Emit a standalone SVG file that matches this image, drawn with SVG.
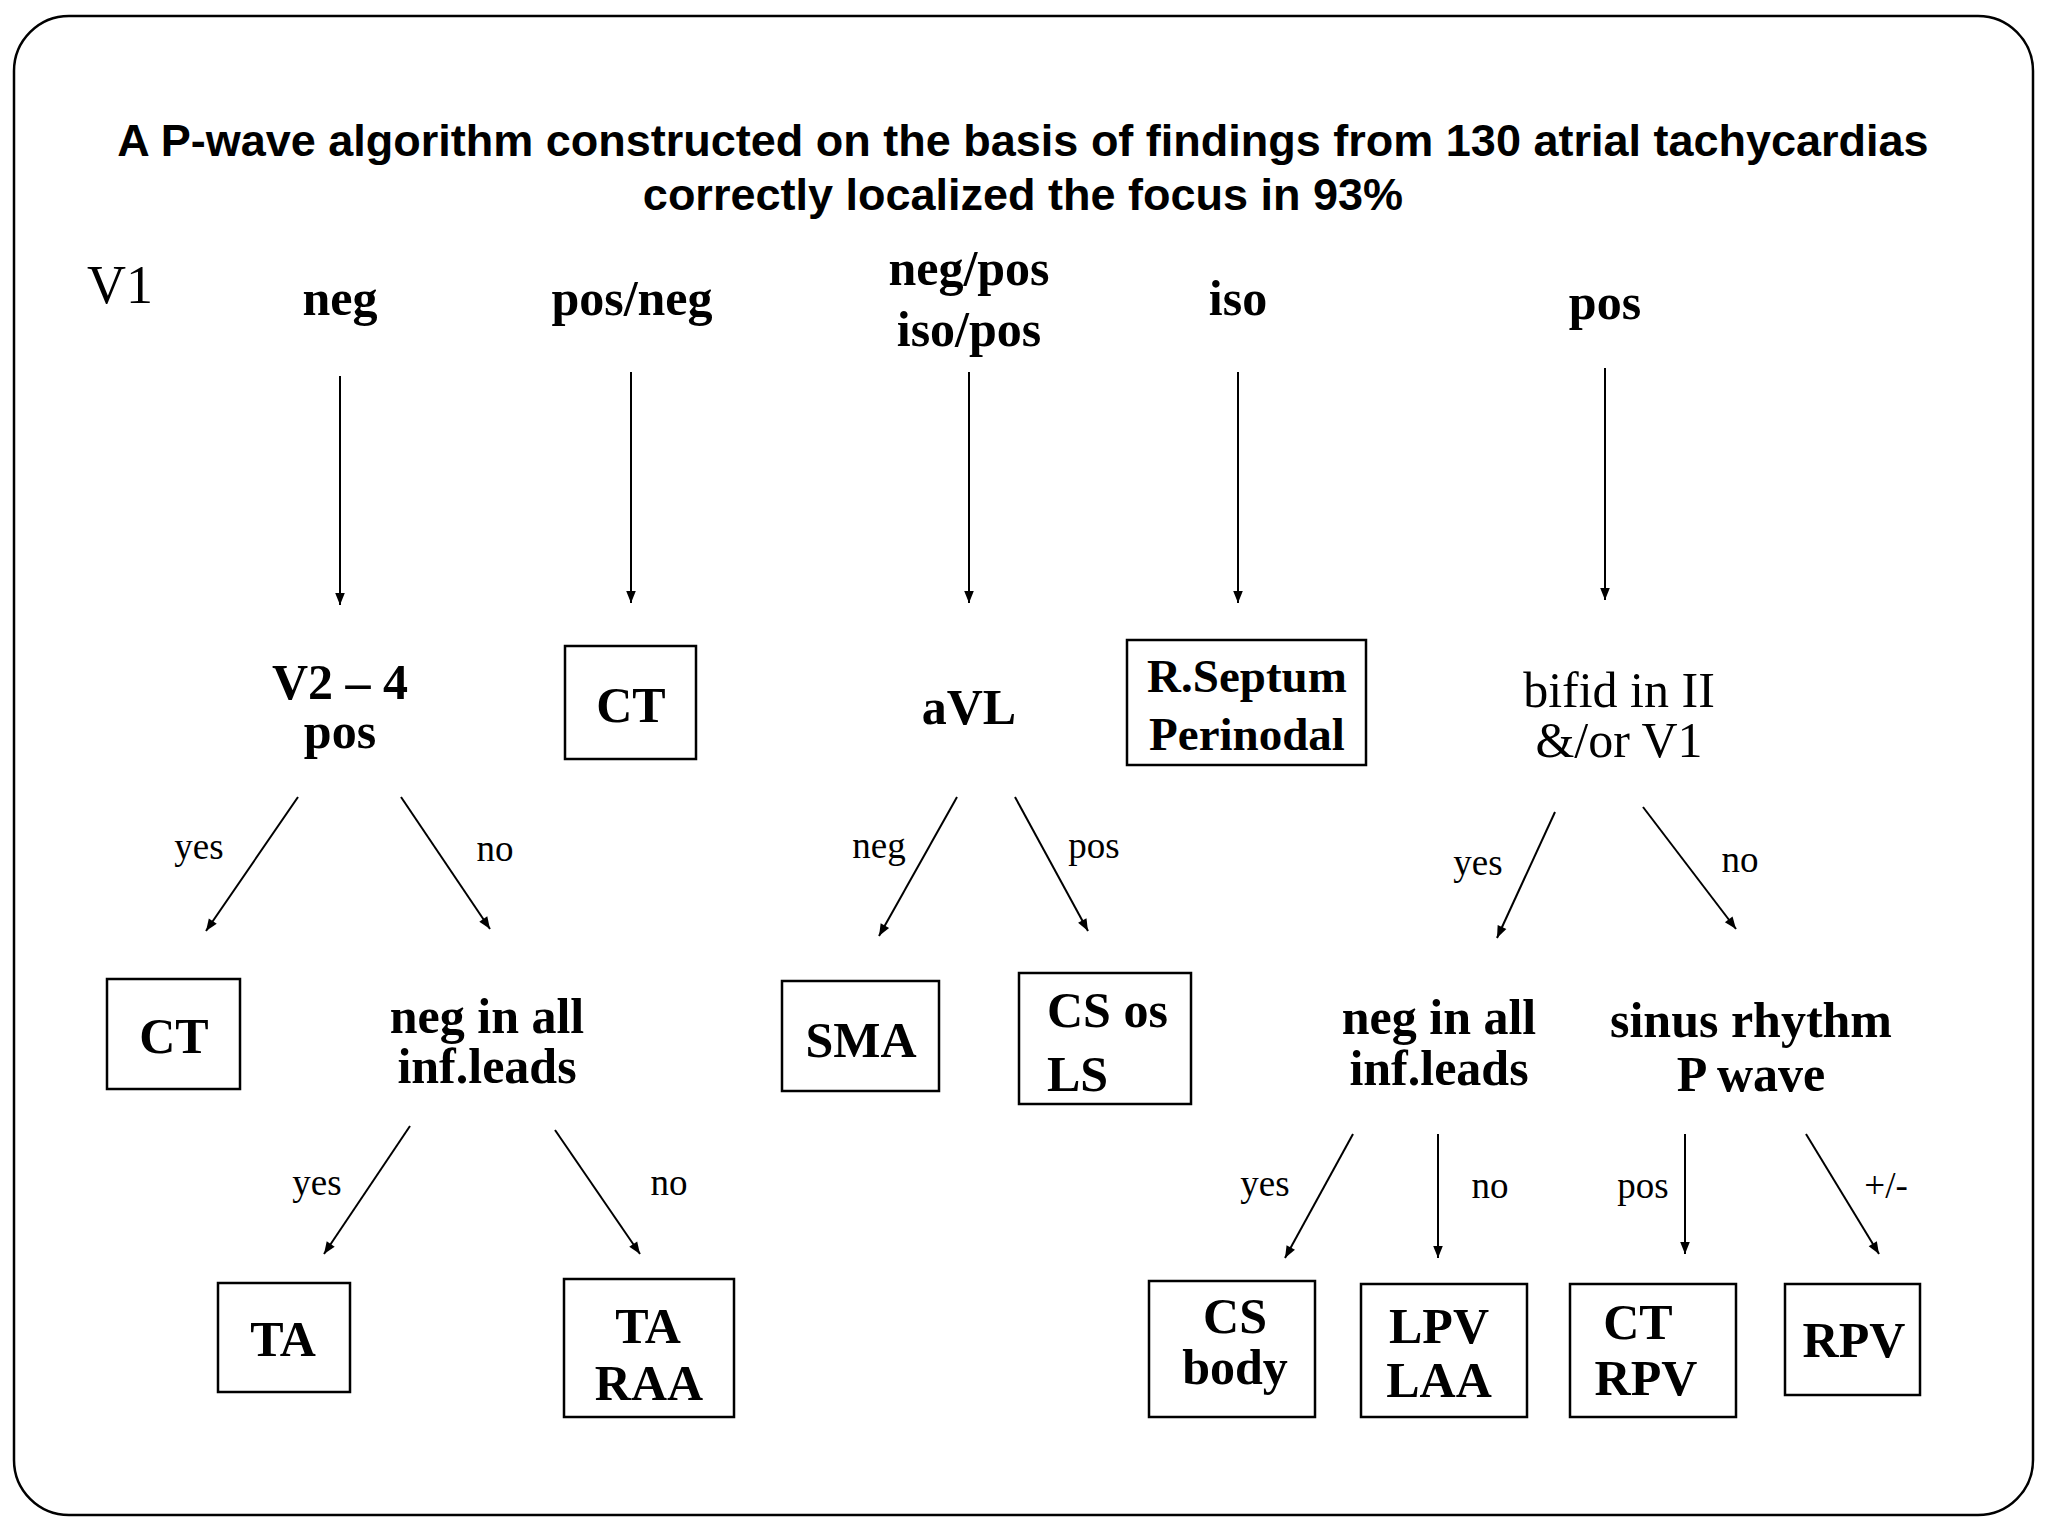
<svg xmlns="http://www.w3.org/2000/svg" width="2048" height="1536" viewBox="0 0 2048 1536">
<style>
.t{font-family:"Liberation Serif",serif;font-weight:bold;font-size:50px;text-anchor:middle;dominant-baseline:central}
.n{font-family:"Liberation Serif",serif;font-size:37px;text-anchor:middle;dominant-baseline:central}
.b{fill:none;stroke:#000;stroke-width:2.5}
.c line{stroke:#000;stroke-width:2;marker-end:url(#a)}
</style>
<defs><marker id="a" viewBox="0 0 10 10" refX="10" refY="5" markerWidth="16" markerHeight="12" markerUnits="userSpaceOnUse" orient="auto"><path d="M0,1 L10,5 L0,9 z" fill="#000"/></marker></defs>
<rect x="0" y="0" width="2048" height="1536" fill="#fff"/>
<rect x="14" y="16" width="2019" height="1499" rx="55" fill="none" stroke="#000" stroke-width="2.5"/>
<g id="title" font-family="Liberation Sans,Arial,sans-serif" font-weight="bold" font-size="45" text-anchor="middle">
<text x="1023" y="156">A P-wave algorithm constructed on the basis of findings from 130 atrial tachycardias</text>
<text x="1023" y="210">correctly localized the focus in 93%</text></g>
<g id="v1"><text class="n" x="120" y="285" style="font-size:54px">V1</text></g>
<g id="top"><text class="t" x="340" y="298">neg</text><text class="t" x="632" y="298">pos/neg</text>
<text class="t" x="969" y="268">neg/pos</text><text class="t" x="969" y="329">iso/pos</text>
<text class="t" x="1238" y="298">iso</text><text class="t" x="1605" y="302">pos</text></g>
<g id="v24"><text class="t" x="340" y="682">V2 – 4</text><text class="t" x="340" y="731">pos</text></g>
<g id="ct1"><rect class="b" x="565" y="646" width="131" height="113"/><text class="t" x="631" y="705">CT</text></g>
<g id="avl"><text class="t" x="969" y="707">aVL</text></g>
<g id="rsep"><rect class="b" x="1127" y="640" width="239" height="125"/><text class="t" x="1247" y="676" style="font-size:47px">R.Septum</text><text class="t" x="1247" y="734" style="font-size:47px">Perinodal</text></g>
<g id="bifid"><text class="n" x="1619" y="690" style="font-size:50px">bifid in II</text><text class="n" x="1619" y="740" style="font-size:50px">&amp;/or V1</text></g>
<g id="ct2"><rect class="b" x="107" y="979" width="133" height="110"/><text class="t" x="174" y="1036">CT</text></g>
<g id="neg1"><text class="t" x="487" y="1016">neg in all</text><text class="t" x="487" y="1066">inf.leads</text></g>
<g id="sma"><rect class="b" x="782" y="981" width="157" height="110"/><text class="t" x="861" y="1040">SMA</text></g>
<g id="csos"><rect class="b" x="1019" y="973" width="172" height="131"/><text class="t" x="1047" y="1010" style="text-anchor:start">CS os</text><text class="t" x="1047" y="1074" style="text-anchor:start">LS</text></g>
<g id="neg2"><text class="t" x="1439" y="1017">neg in all</text><text class="t" x="1439" y="1068">inf.leads</text></g>
<g id="sinus"><text class="t" x="1751" y="1020">sinus rhythm</text><text class="t" x="1751" y="1074">P wave</text></g>
<g id="ta"><rect class="b" x="218" y="1283" width="132" height="109"/><text class="t" x="283" y="1339">TA</text></g>
<g id="taraa"><rect class="b" x="564" y="1279" width="170" height="138"/><text class="t" x="648" y="1326">TA</text><text class="t" x="649" y="1383">RAA</text></g>
<g id="csbody"><rect class="b" x="1149" y="1281" width="166" height="136"/><text class="t" x="1235" y="1316">CS</text><text class="t" x="1235" y="1367">body</text></g>
<g id="lpv"><rect class="b" x="1361" y="1284" width="166" height="133"/><text class="t" x="1439" y="1326">LPV</text><text class="t" x="1439" y="1380">LAA</text></g>
<g id="ctrpv"><rect class="b" x="1570" y="1284" width="166" height="133"/><text class="t" x="1638" y="1322">CT</text><text class="t" x="1646" y="1378">RPV</text></g>
<g id="rpv"><rect class="b" x="1785" y="1284" width="135" height="111"/><text class="t" x="1854" y="1340">RPV</text></g>
<g class="c" id="connectors">
<line x1="340" y1="376" x2="340" y2="605"/><line x1="631" y1="372" x2="631" y2="603"/><line x1="969" y1="372" x2="969" y2="603"/><line x1="1238" y1="372" x2="1238" y2="603"/><line x1="1605" y1="368" x2="1605" y2="600"/>
<line x1="298" y1="797" x2="206" y2="931"/><line x1="401" y1="797" x2="490" y2="929"/>
<line x1="957" y1="797" x2="879" y2="936"/><line x1="1015" y1="797" x2="1088" y2="931"/>
<line x1="1555" y1="812" x2="1497" y2="938"/><line x1="1643" y1="807" x2="1736" y2="929"/>
<line x1="410" y1="1126" x2="324" y2="1254"/><line x1="555" y1="1130" x2="640" y2="1254"/>
<line x1="1353" y1="1134" x2="1285" y2="1258"/><line x1="1438" y1="1134" x2="1438" y2="1258"/><line x1="1685" y1="1134" x2="1685" y2="1254"/><line x1="1806" y1="1134" x2="1879" y2="1254"/>
</g>
<g id="labels"><text class="n" x="199" y="846">yes</text><text class="n" x="495" y="848">no</text>
<text class="n" x="879" y="845">neg</text><text class="n" x="1094" y="845">pos</text>
<text class="n" x="1478" y="862">yes</text><text class="n" x="1740" y="859">no</text>
<text class="n" x="317" y="1182">yes</text><text class="n" x="669" y="1182">no</text>
<text class="n" x="1265" y="1183">yes</text><text class="n" x="1490" y="1185">no</text><text class="n" x="1643" y="1185">pos</text><text class="n" x="1886" y="1185">+/-</text></g>
</svg>
